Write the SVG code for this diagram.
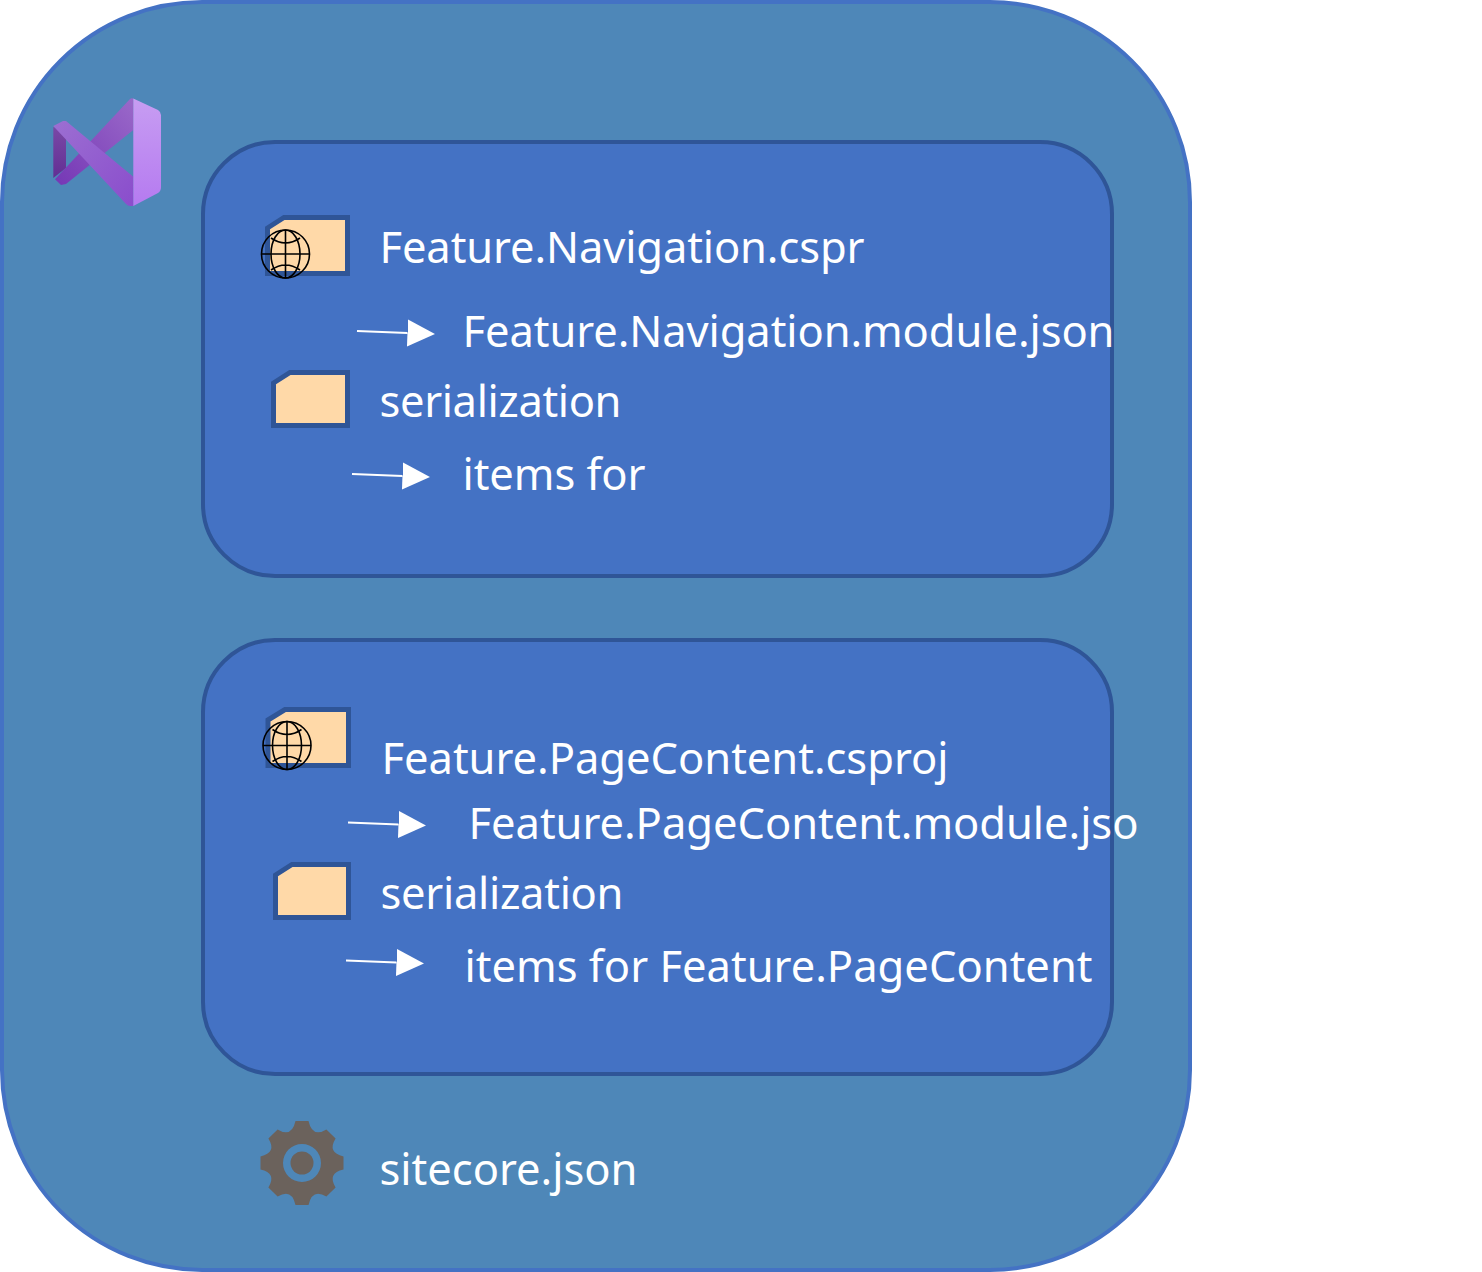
<svg xmlns="http://www.w3.org/2000/svg" xmlns:xlink="http://www.w3.org/1999/xlink" width="1482" height="1272" viewBox="0 0 1482 1272">
<style>
text{font-family:"Noto Sans","Open Sans","Liberation Sans",sans-serif;font-size:43.500px;fill:#fff}
.panel{fill:#4472c4;stroke:#2f5597;stroke-width:4}
.folder{fill:#ffd9a8;stroke:#2f5597;stroke-width:5}
.globe{fill:none;stroke:#000;stroke-width:1.600}
.arrow{fill:none;stroke:#fff;stroke-width:2;marker-end:url(#head)}
</style>
<defs>
<marker id="head" markerUnits="userSpaceOnUse" markerWidth="28" markerHeight="28" refX="0" refY="14" orient="auto" viewBox="0 0 28 28"><path d="M0 0.500L27.500 14L0 27.500Z" fill="#fff"/></marker>
<linearGradient id="gR" x1="0" y1="0" x2="0" y2="1"><stop offset="0" stop-color="#c79df2"/><stop offset="1" stop-color="#b57af0"/></linearGradient>
<linearGradient id="gA" x1="1" y1="0" x2="0" y2="1"><stop offset="0" stop-color="#9a69c9"/><stop offset="1" stop-color="#7537b5"/></linearGradient>
<linearGradient id="gB" x1="0" y1="0" x2="1" y2="1"><stop offset="0" stop-color="#9c6fd2"/><stop offset="1" stop-color="#8a4dcc"/></linearGradient>
<linearGradient id="gL" x1="0" y1="0" x2="0" y2="1"><stop offset="0" stop-color="#7a48a6"/><stop offset="1" stop-color="#622f94"/></linearGradient>
<g id="globe"><circle class="globe" r="24"/><ellipse class="globe" rx="14.500" ry="24"/><path class="globe" d="M0-24V24M-24 0H24M-14.500-16Q0-6 14.500-16M-14.500 16Q0 6 14.500 16"/></g>
</defs>
<g id="solution">
<rect x="2" y="2" width="1188" height="1268" rx="200" ry="200" fill="#4e87b8" stroke="#4472c4" stroke-width="4"/>
</g>
<g id="vs-logo">
<path d="M53.300 126.700L66 135V168L53.300 178Z" fill="url(#gL)"/>
<path d="M130 99Q131 98 133.300 98.500V130L66 184L61 185L55 179.300Z" fill="url(#gA)"/>
<path d="M53.300 126L63 121L66 121L133.300 176.700V206H130Q128 206 126 204Z" fill="url(#gB)"/>
<path d="M133.300 98.500L158 110Q161 112 161 115V187Q161 191 158 193L133.300 206Z" fill="url(#gR)"/>
</g>
<g id="project-navigation">
<rect class="panel" x="203" y="142" width="909" height="434" rx="72" ry="72"/>
<path class="folder" d="M267.500 228L284 217.500H347.500V273.500H267.500Z"/>
<use xlink:href="#globe" href="#globe" x="285.500" y="254"/>
<text x="379.500" y="263" textLength="485">Feature.Navigation.cspr</text>
<text x="462.500" y="347" textLength="652">Feature.Navigation.module.json</text>
<path class="folder" d="M273.500 383L290 372.500H347.500V425.500H273.500Z"/>
<text x="379.500" y="417" textLength="242">serialization</text>
<text x="462.500" y="490" textLength="183">items for</text>
</g>
<g id="project-pagecontent">
<rect class="panel" x="203" y="640" width="909" height="434" rx="72" ry="72"/>
<path class="folder" d="M268 720L285 709.500H348.500V765.500H268Z"/>
<use xlink:href="#globe" href="#globe" x="287" y="745.500"/>
<text x="381.500" y="774" textLength="567">Feature.PageContent.csproj</text>
<text x="468.500" y="839" textLength="670">Feature.PageContent.module.jso</text>
<path class="folder" d="M275.500 875L292 864.500H348.500V917.500H275.500Z"/>
<text x="380.500" y="909" textLength="243">serialization</text>
<text x="464.500" y="982" textLength="628">items for Feature.PageContent</text>
</g>
<g id="sitecore-json">
<path fill="#6b625c" fill-rule="evenodd" d="M295.500 1121H308.500Q312.300 1138.100 326.400 1129.400L335.600 1138.600Q326.900 1152.700 343.500 1156.500V1169.500Q326.900 1173.300 335.600 1187.400L326.400 1196.600Q312.300 1187.900 308.500 1205H295.500Q291.700 1187.900 277.600 1196.600L268.400 1187.400Q277.100 1173.300 260.500 1169.500V1156.500Q277.100 1152.700 268.400 1138.600L277.600 1129.400Q291.700 1138.100 295.500 1121ZM302 1144A19 19 0 1 0 302 1182A19 19 0 1 0 302 1144Z"/>
<circle cx="302" cy="1163" r="11.500" fill="#6b625c"/>
<text x="379.500" y="1185" textLength="258">sitecore.json</text>
</g>
<g id="connectors">
<path class="arrow" d="M357 331L407.500 333"/>
<path class="arrow" d="M352 474L402.500 476"/>
<path class="arrow" d="M348 822.500L398.500 824.500"/>
<path class="arrow" d="M346 960.500L396.500 962.500"/>
</g>
</svg>
